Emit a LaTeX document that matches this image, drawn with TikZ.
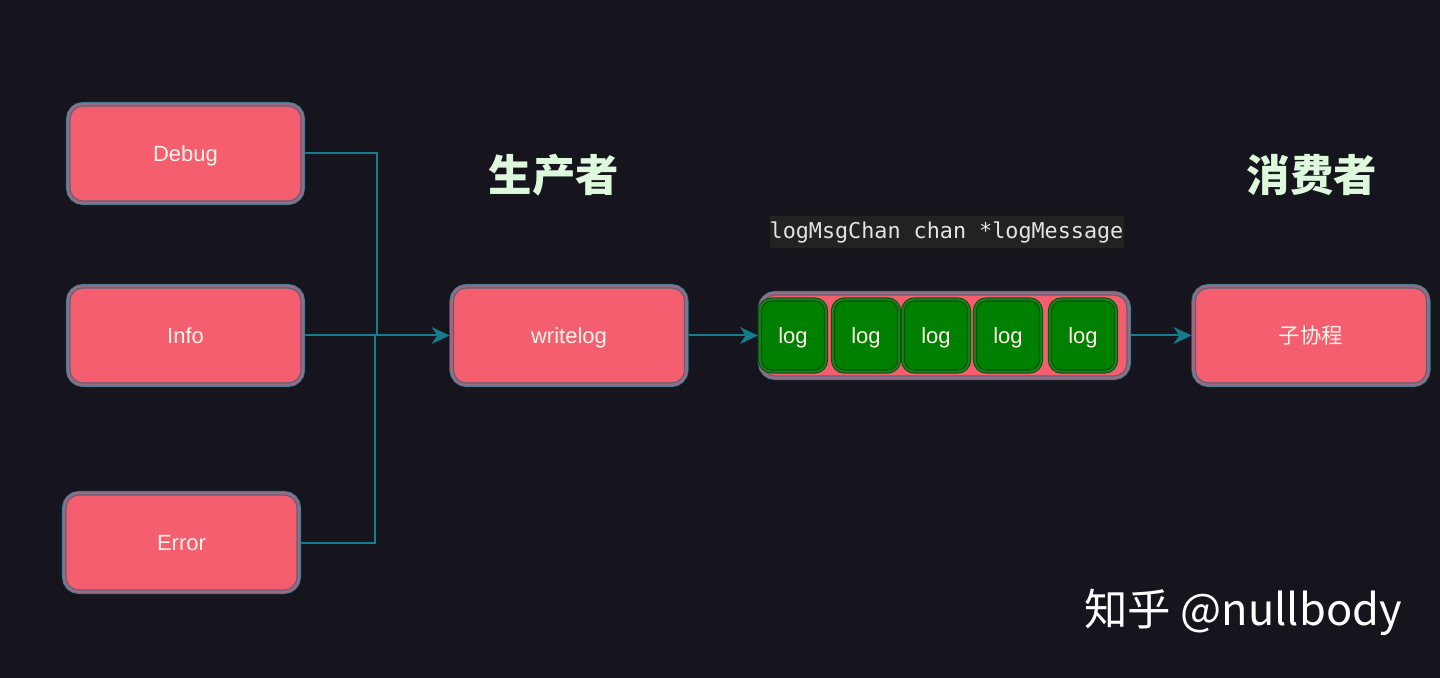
\documentclass[tikz,border=0pt]{standalone}
\usepackage{fontspec}
\setmainfont{Liberation Sans}
\newfontfamily\cjkfont{Noto Sans CJK SC}
\newfontfamily\codefont{DejaVu Sans Mono}
\usetikzlibrary{arrows.meta}
\definecolor{bgc}{HTML}{16141C}
\definecolor{pinkc}{HTML}{F45E6E}
\definecolor{ringa}{HTML}{1F8090}
\definecolor{ringb}{HTML}{9A6A84}
\definecolor{ringc}{HTML}{5A6477}
\definecolor{teal1}{HTML}{147C8C}
\definecolor{greenc}{HTML}{008000}
\definecolor{greena}{HTML}{0A500A}
\definecolor{greenb}{HTML}{1B7F1B}
\definecolor{greenc2}{HTML}{075507}
\definecolor{headc}{HTML}{DDF8DD}
\definecolor{labelc}{HTML}{FFF4EA}
\definecolor{codebg}{HTML}{222222}
\definecolor{codefg}{HTML}{E4E4E4}
\tikzset{
  box/.style={rectangle,rounded corners=6.5pt,fill=pinkc,draw=ringc,line width=.55pt,
    preaction={draw=ringa,line width=4.1pt},
    preaction={draw=ringb,line width=3.3pt},
    minimum width=115.5pt,minimum height=47.5pt,inner sep=0pt,outer sep=2pt,
    text height=8pt,text depth=0pt,
    text=labelc,font=\fontsize{11}{13}\selectfont},
  queuebox/.style={box,minimum width=182.5pt,minimum height=40.5pt},
  logbox/.style={rectangle,rounded corners=5pt,fill=greenc,draw=greenc2,line width=.55pt,
    preaction={draw=greena,line width=3.6pt},
    preaction={draw=greenb,line width=2.6pt},
    minimum width=31.5pt,minimum height=34.5pt,inner sep=0pt,outer sep=1.8pt,
    text height=8pt,text depth=0pt,
    text=labelc,font=\fontsize{11}{13}\selectfont},
  conn/.style={draw=teal1,line width=1pt},
  arrowconn/.style={conn,-{Stealth[length=9pt,width=8.5pt]}},
  heading/.style={inner sep=0pt,text=headc,font=\cjkfont\bfseries\fontsize{21.7}{24}\selectfont},
  codelabel/.style={fill=codebg,text=codefg,inner sep=0pt,minimum width=177pt,minimum height=16pt,
    font=\codefont\fontsize{10.88}{12}\selectfont},
  mark label/.style={inner sep=0pt,text=white,font=\cjkfont\fontsize{21.7}{26}\selectfont}
}
\begin{document}
\begin{tikzpicture}[x=0.5pt,y=-0.5pt]
\fill[bgc] (0,0) rectangle (1440,678);
\useasboundingbox (0,0) rectangle (1440,678);

\node[box] (debug) at (185.5,153.5) {Debug};
\node[box] (info) at (185.5,335.5) {Info};
\node[box] (error) at (181.5,542.5) {Error};
\node[box] (writelog) at (569,335.5) {writelog};
\node[queuebox] (queue) at (944.5,335.5) {};
\node[box,font=\cjkfont\fontsize{10.7}{13}\selectfont] (worker) at (1311,335.5) {子协程};

\node[logbox] (log1) at (793,335.5) {log};
\node[logbox] (log2) at (866,335.5) {log};
\node[logbox] (log3) at (936,335.5) {log};
\node[logbox] (log4) at (1008,335.5) {log};
\node[logbox] (log5) at (1083,335.5) {log};

\node[heading] (producer) at (554,175) {生产者};
\node[heading] (consumer) at (1312,175) {消费者};
\node[codelabel] (chan) at (946.5,232.5) {logMsgChan chan *logMessage};
\node[mark label] (mark) at (1243,612) {知乎 @nullbody};

\coordinate (j1) at (377,335.5);
\coordinate (j2) at (375,335.5);
\draw[conn] (debug.east) -| (j1);
\draw[conn] (error.east) -| (j2);
\draw[arrowconn] (info.east) -- (writelog.west);
\draw[arrowconn] (writelog.east) -- (log1.west);
\draw[arrowconn] (queue.east) -- (worker.west);
\end{tikzpicture}
\end{document}
